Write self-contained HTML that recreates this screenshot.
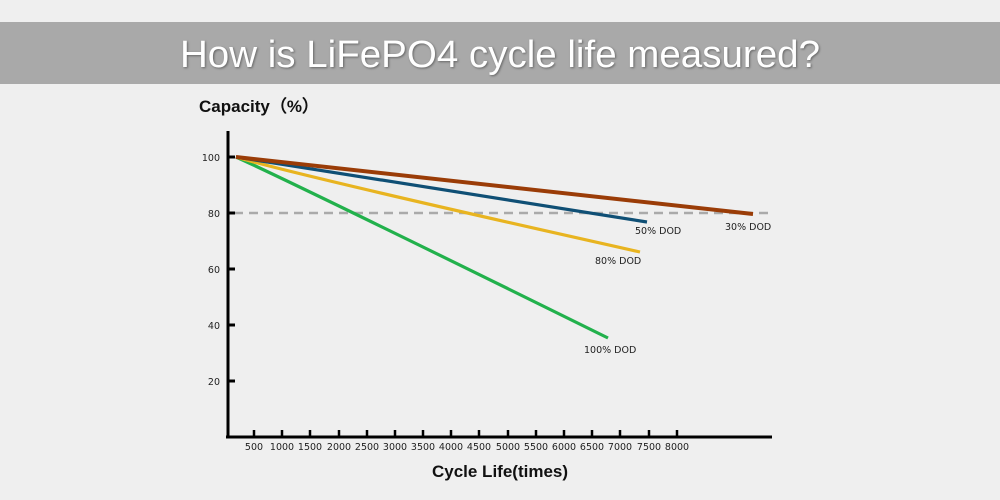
<!DOCTYPE html>
<html><head><meta charset="utf-8"><style>
html,body{margin:0;padding:0;background:#efefef;}
svg{display:block}
</style></head><body>
<svg width="1000" height="500" viewBox="0 0 1000 500" xmlns="http://www.w3.org/2000/svg">
<rect width="1000" height="500" fill="#efefef"/>
<rect x="0" y="22" width="1000" height="62" fill="#a9a9a9"/>
<text x="500" y="67" text-anchor="middle" font-family="Liberation Sans, sans-serif" font-size="38" fill="#ffffff" textLength="640" lengthAdjust="spacingAndGlyphs" style="text-shadow:1px 1px 2px #666">How is LiFePO4 cycle life measured?</text>
<text x="199" y="112" font-family="Liberation Sans, sans-serif" font-weight="bold" font-size="17" fill="#111">Capacity（%）</text>
<line x1="234" y1="213" x2="770" y2="213" stroke="#aaa" stroke-width="2.5" stroke-dasharray="9,6"/>
<g font-family="DejaVu Sans, sans-serif" font-size="9.5" fill="#222">
<text x="220" y="161" text-anchor="end">100</text>
<text x="220" y="217" text-anchor="end">80</text>
<text x="220" y="273" text-anchor="end">60</text>
<text x="220" y="329" text-anchor="end">40</text>
<text x="220" y="385" text-anchor="end">20</text>
</g>
<g stroke="#000" stroke-width="3">
<line x1="228" y1="131" x2="228" y2="438"/>
<line x1="226" y1="437" x2="772" y2="437"/>
<line x1="228" y1="157" x2="235" y2="157"/>
<line x1="228" y1="213" x2="235" y2="213"/>
<line x1="228" y1="269" x2="235" y2="269"/>
<line x1="228" y1="325" x2="235" y2="325"/>
<line x1="228" y1="381" x2="235" y2="381"/>
</g>
<g font-family="DejaVu Sans, sans-serif" font-size="9.5" fill="#222" text-anchor="middle">
<text x="254" y="450">500</text><text x="282" y="450">1000</text><text x="310" y="450">1500</text><text x="339" y="450">2000</text><text x="367" y="450">2500</text><text x="395" y="450">3000</text><text x="423" y="450">3500</text><text x="451" y="450">4000</text><text x="479" y="450">4500</text><text x="508" y="450">5000</text><text x="536" y="450">5500</text><text x="564" y="450">6000</text><text x="592" y="450">6500</text><text x="620" y="450">7000</text><text x="649" y="450">7500</text><text x="677" y="450">8000</text>
</g>
<g stroke="#000" stroke-width="2.5">
<line x1="254" y1="430" x2="254" y2="437"/><line x1="282" y1="430" x2="282" y2="437"/><line x1="310" y1="430" x2="310" y2="437"/><line x1="339" y1="430" x2="339" y2="437"/><line x1="367" y1="430" x2="367" y2="437"/><line x1="395" y1="430" x2="395" y2="437"/><line x1="423" y1="430" x2="423" y2="437"/><line x1="451" y1="430" x2="451" y2="437"/><line x1="479" y1="430" x2="479" y2="437"/><line x1="508" y1="430" x2="508" y2="437"/><line x1="536" y1="430" x2="536" y2="437"/><line x1="564" y1="430" x2="564" y2="437"/><line x1="592" y1="430" x2="592" y2="437"/><line x1="620" y1="430" x2="620" y2="437"/><line x1="649" y1="430" x2="649" y2="437"/><line x1="677" y1="430" x2="677" y2="437"/>
</g>
<g fill="none" stroke-width="3.2" stroke-linecap="butt">
<path d="M236 157 Q300 186 608 338" stroke="#22b14c"/>
<path d="M236 157 Q300 176 640 252" stroke="#e8b420"/>
<path d="M236 157 L647 222" stroke="#0f4f75"/>
<path d="M236 157 L753 214" stroke="#9a3c07" stroke-width="4"/>
</g>
<g font-family="DejaVu Sans, sans-serif" font-size="9.5" fill="#222">
<text x="635" y="234">50% DOD</text>
<text x="725" y="230">30% DOD</text>
<text x="595" y="264">80% DOD</text>
<text x="584" y="353">100% DOD</text>
</g>
<text x="500" y="477" text-anchor="middle" font-family="Liberation Sans, sans-serif" font-weight="bold" font-size="17" fill="#111">Cycle Life(times)</text>
</svg>
</body></html>
